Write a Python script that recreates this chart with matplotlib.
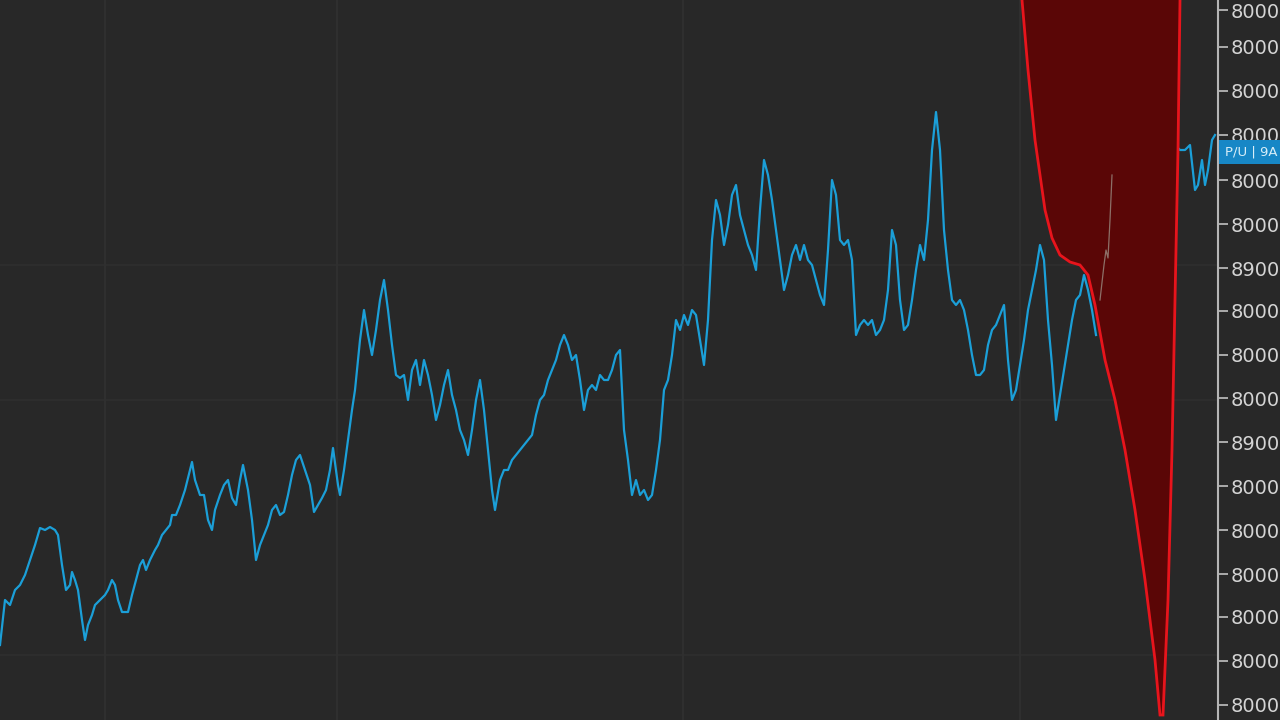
import matplotlib.pyplot as plt

# blue price series (time, level)
t = [0, 5, 10, 15, 20, 25, 30, 35, 40, 45, 50, 55, 58, 62, 66, 70, 72, 75, 78, 82, 85, 88, 92, 95,
     100, 105, 108, 112, 115, 118, 122, 128, 132, 136, 140, 143, 146, 150, 155, 158, 162, 166, 170,
     172, 176, 180, 185, 192, 195, 200, 204, 208, 212, 215, 220, 224, 228, 232, 236, 240, 243, 248,
     252, 256, 260, 264, 268, 272, 276, 280, 284, 288, 292, 296, 300, 305, 310, 314, 318, 322, 326,
     330, 333, 336, 338, 340, 344, 348, 352, 355, 360, 364, 368, 372, 376, 380, 384, 388, 392, 396,
     400, 404, 408, 412, 416, 420, 424, 428, 432, 436, 440, 444, 448, 452, 456, 460, 464, 468, 472,
     476, 480, 484, 488, 492, 495, 500, 504, 508, 512, 516, 520, 524, 528, 532, 536, 540, 544, 548,
     552, 556, 560, 564, 568, 572, 576, 580, 584, 588, 592, 596, 600, 604, 608, 612, 616, 620, 624,
     628, 632, 636, 640, 644, 648, 652, 656, 660, 664, 668, 672, 676, 680, 684, 688, 692, 696, 700,
     704, 708, 712, 716, 720, 724, 728, 732, 736, 740, 744, 748, 752, 756, 760, 764, 768, 772, 776,
     780, 784, 788, 792, 796, 800, 804, 808, 812, 816, 820, 824, 828, 832, 836, 840, 844, 848, 852,
     856, 860, 864, 868, 872, 876, 880, 884, 888, 892, 896, 900, 904, 908, 912, 916, 920, 924, 928,
     932, 936, 940, 944, 948, 952, 956, 960, 964, 968, 972, 976, 980, 984, 988, 992, 996, 1000, 1004,
     1008, 1012, 1016, 1020, 1024, 1028, 1032, 1036, 1040, 1044, 1048, 1052, 1056, 1060, 1064, 1068,
     1072, 1076, 1080, 1084, 1088, 1092, 1096]
price = [75, 120, 115, 130, 135, 145, 160, 175, 192, 190, 193, 190, 185, 155, 130, 135, 148, 140, 130,
         100, 80, 95, 105, 115, 120, 125, 130, 140, 135, 120, 108, 108, 125, 140, 155, 160, 150, 160,
         170, 175, 185, 190, 195, 205, 205, 215, 230, 258, 240, 225, 225, 200, 190, 210, 225, 235, 240,
         222, 215, 240, 255, 230, 200, 160, 175, 185, 195, 210, 215, 205, 208, 225, 245, 260, 265, 250,
         235, 208, 215, 222, 230, 250, 272, 250, 235, 225, 250, 280, 310, 330, 380, 410, 385, 365, 390,
         420, 440, 410, 375, 345, 342, 345, 320, 350, 360, 335, 360, 345, 325, 300, 315, 335, 350, 325,
         310, 290, 280, 265, 290, 320, 340, 310, 270, 230, 210, 240, 250, 250, 260, 265, 270, 275, 280,
         285, 305, 320, 325, 340, 350, 360, 375, 385, 375, 360, 365, 340, 310, 330, 335, 330, 345, 340,
         340, 350, 365, 370, 290, 260, 225, 240, 225, 230, 220, 225, 250, 280, 330, 340, 365, 400, 390,
         405, 395, 410, 405, 380, 355, 400, 480, 520, 505, 475, 495, 525, 535, 505, 490, 475, 465, 450,
         510, 560, 545, 520, 490, 460, 430, 445, 465, 475, 460, 475, 460, 455, 440, 425, 415, 470, 540,
         525, 480, 475, 480, 460, 385, 395, 400, 395, 400, 385, 390, 400, 430, 490, 475, 420, 390, 395,
         420, 450, 475, 460, 500, 570, 608, 570, 490, 450, 420, 415, 420, 410, 390, 365, 345, 345, 350,
         375, 390, 395, 405, 415, 360, 320, 330, 355, 380, 410, 430, 450, 475, 460, 400, 355, 300, 325,
         350, 375, 400, 420, 425, 445, 430, 410, 385]

# short blue segment to the right of the red band
t2 = [1175, 1180, 1185, 1190, 1195, 1198, 1202, 1205, 1208, 1212, 1215]
price2 = [575, 570, 570, 575, 530, 535, 560, 535, 550, 580, 585]

# faint grey wick inside the red band
t3 = [1100, 1104, 1106, 1108, 1110, 1112]
price3 = [420, 455, 470, 462, 500, 545]

# red band outline (left edge top->bottom, right edge bottom->top); runs past the top edge
band_t = [1020, 1022, 1028, 1035, 1040, 1045, 1052, 1060, 1070, 1080, 1088, 1095, 1105, 1115, 1125,
          1135, 1145, 1155, 1160, 1163, 1168, 1172, 1175, 1178, 1180, 1180]
band_p = [760, 720, 650, 580, 545, 510, 482, 465, 458, 455, 445, 415, 360, 320, 270, 210, 140, 60,
          5, 5, 120, 270, 420, 570, 720, 760]

tick_levels = [710, 673, 629, 585, 540, 496, 452, 409, 365, 322, 278, 234, 190, 146, 103, 59, 15]
tick_labels = ["8000", "8000", "8000", "8000", "8000", "8000", "8900", "8000", "8000", "8000",
               "8900", "8000", "8000", "8000", "8000", "8000", "8000"]

bg = "#282828"
fig = plt.figure(figsize=(12.8, 7.2), dpi=100, facecolor=bg)
ax = fig.add_axes([0, 0, 1218 / 1280, 1])
ax.set_facecolor(bg)

# faint grid
for gx in [105, 337, 683, 1020]:
    ax.axvline(gx, color="#313131", lw=1.2, zorder=0)
for gy in [455, 320, 65]:
    ax.axhline(gy, color="#2f2f2f", lw=1.2, zorder=0)

ax.plot(t, price, color="#1b9fd8", lw=1.6, zorder=2)
ax.plot(t2, price2, color="#1b9fd8", lw=1.6, zorder=2)

ax.fill(band_t, band_p, facecolor="#5a0606", edgecolor="#e8141c", lw=2, zorder=3)
ax.plot(t3, price3, color="#9a8a80", lw=0.9, alpha=0.8, zorder=4)

ax.set_xlim(0, 1218)
ax.set_ylim(0, 720)

for s in ["top", "left", "bottom"]:
    ax.spines[s].set_visible(False)
ax.spines["right"].set_color("#b5b5b5")
ax.spines["right"].set_linewidth(1.5)
ax.set_xticks([])
ax.yaxis.tick_right()
ax.set_yticks(tick_levels)
ax.set_yticklabels(tick_labels)
ax.tick_params(axis="y", colors="#b5b5b5", labelcolor="#d4d4d4", length=7, width=1.3,
               labelsize=14, pad=2)

# price tag box
ax.text(1251, 568, "P/U | 9A", transform=ax.transData, clip_on=False, ha="center", va="center",
        fontsize=9.5, color="#d8eef8",
        bbox=dict(boxstyle="square,pad=0.4", facecolor="#1787c6", edgecolor="none"), zorder=5)

fig.savefig("out.png", dpi=100, facecolor=bg)
